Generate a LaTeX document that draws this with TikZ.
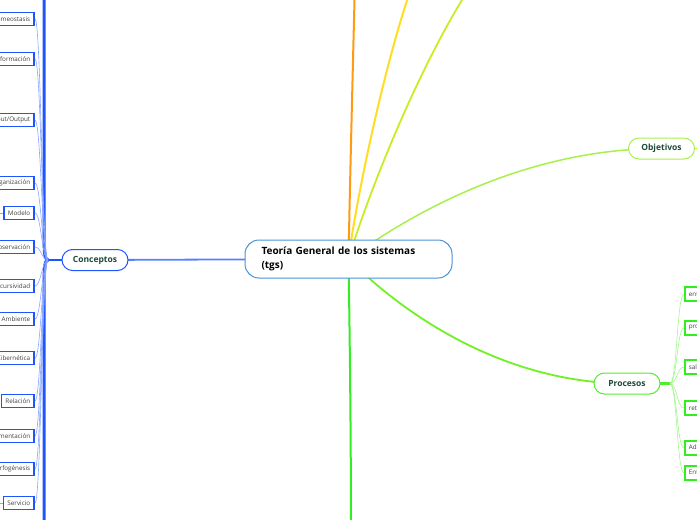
\documentclass[tikz,border=0pt]{standalone}
\usepackage{fontspec}
\setmainfont{Open Sans}
\usetikzlibrary{positioning}
\usetikzlibrary{backgrounds}
\usetikzlibrary{calc}
\definecolor{mainedge}{HTML}{4A92D8}
\definecolor{cblue}{HTML}{1F55FF}
\definecolor{lblue}{HTML}{8AA6FF}
\definecolor{darkg}{HTML}{1E4A3A}
\definecolor{objg}{HTML}{A8F04A}
\definecolor{procg}{HTML}{4EEE2C}
\definecolor{leafg}{HTML}{33EE1E}
\definecolor{lgreen}{HTML}{A4F490}
\definecolor{orangel}{HTML}{FF9A12}
\definecolor{yellowl}{HTML}{FFDD22}
\definecolor{ygreenl}{HTML}{C6EE22}
\definecolor{greenl}{HTML}{33EE22}
\tikzset{
    mainnode/.style = {rectangle, rounded corners=14pt, draw=mainedge, line width=1pt, fill=white, minimum width=207pt, minimum height=38pt, text width=174pt, align=left, inner sep=0pt, font=\fontsize{10}{14}\selectfont\bfseries},
    topicb/.style = {rectangle, rounded corners=10.5pt, draw=cblue, line width=1pt, fill=white, minimum width=66pt, minimum height=21pt, inner sep=0pt, text=darkg, font=\fontsize{8.5}{10}\selectfont\bfseries},
    topicg/.style = {topicb, draw=#1},
    leafb/.style = {rectangle, draw=cblue, line width=1.6pt, fill=white, minimum height=13pt, inner xsep=4pt, inner ysep=0pt, anchor=east, text=black!75, font=\fontsize{6.3}{7}\selectfont},
    leafg/.style = {leafb, draw=leafg, line width=1.8pt, minimum height=14pt, anchor=west},
    edgeb/.style = {line width=1.8pt, draw=cblue!75},
    trunkb/.style = {line width=3pt, draw=cblue},
    linkb/.style = {line width=0.6pt, draw=lblue}, % child
    linkg/.style = {line width=0.6pt, draw=lgreen}, % child
    edgec/.style = {line width=#1, line cap=round}
}

\begin{document}
\begin{tikzpicture}[x=1pt,y=-1pt]
\useasboundingbox (0,0) rectangle (697,520);
\clip (0,0) rectangle (697,520);
%
\node[mainnode] at (348.5,259) (tgs) {Teoría General de los sistemas\\(tgs)};
\node[topicb] at (95,260) (conc) {Conceptos};
\node[topicg=objg] at (661.5,148.5) (obj) {Objetivos};
\node[topicg=procg] at (627,383.5) (proc) {Procesos};
%
\node[leafb] at (35,19) (homeo) {Homeostasis};
\node[leafb] at (35,59) (info) {Información};
\node[leafb] at (35,120) (inout) {Input/Output};
\node[leafb] at (35,183) (orga) {Organización};
\node[leafb] at (35,213) (mode) {Modelo};
\node[leafb] at (35,247) (obse) {Observación};
\node[leafb] at (35,286) (recu) {Recursividad};
\node[leafb] at (35,319) (ambi) {Ambiente};
\node[leafb] at (35,358) (cibe) {Cibernética};
\node[leafb] at (35,401) (rela) {Relación};
\node[leafb] at (35,436) (retro) {Retroalimentación};
\node[leafb] at (35,469) (morf) {Morfogénesis};
\node[leafb] at (35,503) (serv) {Servicio};
%
\node[leafg] at (684,294) (ent) {entrada};
\node[leafg] at (684,328) (pro) {proceso};
\node[leafg] at (684,367) (sal) {salida};
\node[leafg] at (684,408) (ret) {retroalimentación};
\node[leafg] at (684,448) (adap) {Adaptación};
\node[leafg] at (684,473) (entr) {Entropía};
%
\coordinate (jc) at (48,260);
\coordinate (jp) at (670,383.5);
\coordinate (tup) at (44,-30);
\coordinate (tdn) at (44,550);
\coordinate (up1) at (355,-20);
\coordinate (up2) at (414,-20);
\coordinate (up3) at (478,-25);
\coordinate (dn1) at (351,540);
\coordinate (objr) at (710,148.5);
\coordinate (model) at (-10,213);
\coordinate (servl) at (-10,503);

\begin{pgfonlayer}{background}
\draw[edgeb] (tgs.center) -- (conc.center);
\draw[edgeb, line width=2.4pt, draw=cblue] (conc.center) -- (jc);
\draw[trunkb] (jc) .. controls (44,260) and (44,250) .. (44,225) -- (tup);
\draw[trunkb] (jc) .. controls (44,260) and (44,270) .. (44,295) -- (tdn);
\foreach \n in {homeo,info,inout,orga,mode,obse,recu,ambi,cibe,rela,retro,morf,serv}
  \draw[linkb] (\n.east) .. controls ($(\n.east)+(6,0)$) and (42,260) .. (jc);
\draw[linkb] (mode.west) -- (model);
\draw[linkb] (serv.west) -- (servl);
%
\draw[edgec=2pt, draw=orangel] (tgs.center) .. controls (350,180) and (353,60) .. (up1);
\draw[edgec=2pt, draw=yellowl] (tgs.center) .. controls (356,200) and (385,60) .. (up2);
\draw[edgec=1.8pt, draw=ygreenl] (tgs.center) .. controls (366,200) and (420,60) .. (up3);
\draw[edgec=2pt, draw=greenl] (tgs.center) .. controls (350,350) and (351,450) .. (dn1);
\draw[edgec=1.5pt, draw=objg] (tgs.center) .. controls (430,200) and (540,148.5) .. (obj.center);
\draw[edgec=1pt, draw=objg] (obj.center) -- (objr);
\draw[edgec=1.8pt, draw=procg!80!yellow] (tgs.center) .. controls (420,330) and (520,383.5) .. (proc.center);
\draw[edgec=2.4pt, draw=procg] (proc.center) -- (jp);
\foreach \n in {ent,pro,sal,ret,adap,entr}
  \draw[linkg] (jp) .. controls (677,383.5) and ($(\n.west)+(-7,0)$) .. (\n.west);
\end{pgfonlayer}

\end{tikzpicture}
\end{document}
